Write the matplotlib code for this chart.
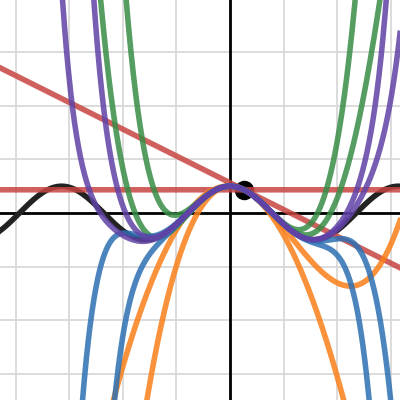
import numpy as np
import matplotlib
matplotlib.use("Agg")
import matplotlib.pyplot as plt
from math import factorial

center = np.pi/6
degrees = [0, 1, 2, 3, 4, 5, 6, 7, 8, 9]
colors = ["#c74440", "#c74440", "#fa7e19", "#fa7e19", "#388c46", "#388c46",
          "#2d70b3", "#2d70b3", "#6042a6", "#6042a6"]

u = 26.8
xmin, xmax = -230/u, 170/u
ymin, ymax = -187/u, 213/u

fig = plt.figure(figsize=(4, 4), dpi=100)
ax = fig.add_axes([0, 0, 1, 1])
ax.set_xlim(xmin, xmax); ax.set_ylim(ymin, ymax)
for v in np.arange(-10, 10, 2):
    ax.axvline(v, color="#d6d6d6", lw=1.2, zorder=0)
    ax.axhline(v, color="#d6d6d6", lw=1.2, zorder=0)
ax.axhline(0, color="black", lw=2, zorder=1)
ax.axvline(0, color="black", lw=2, zorder=1)
ax.set_xticks([]); ax.set_yticks([])
for s in ax.spines.values(): s.set_visible(False)

x = np.linspace(xmin, xmax, 2000)
derivs = [np.cos(center), -np.sin(center), -np.cos(center), np.sin(center)]
ax.plot(x, np.cos(x), color="#222222", lw=4, zorder=2)
for d, c in zip(degrees, colors):
    y = sum(derivs[k % 4] / factorial(k) * (x - center)**k for k in range(d + 1))
    ax.plot(x, y, color=c, lw=4, alpha=0.85, zorder=3)
ax.plot([center], [np.cos(center)], 'o', color="black", ms=13, zorder=2.5)
fig.savefig("out.png")
